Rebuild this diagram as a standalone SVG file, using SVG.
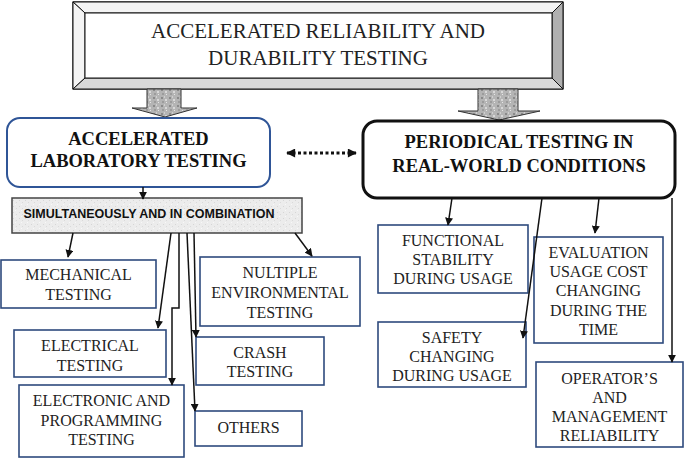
<svg xmlns="http://www.w3.org/2000/svg" width="685" height="458" viewBox="0 0 685 458">
<style>
.box{fill:#fff;stroke:#2e4a7d;stroke-width:1.6}
text{font-family:'Liberation Serif','Times New Roman','DejaVu Serif',serif}
.t{font-size:16px;fill:#222;text-anchor:middle}
.tb{font-size:18.5px;font-weight:bold;fill:#111;text-anchor:middle}
.conn{fill:none;stroke:#111;stroke-width:1.5}
</style>
<defs>
<marker id="ah" viewBox="0 0 10 10" refX="9" refY="5" markerWidth="8" markerHeight="8" markerUnits="userSpaceOnUse" orient="auto">
<path d="M0,0 L10,5 L0,10 z" fill="#111"/>
</marker>
<marker id="ahd" viewBox="0 0 10 10" refX="9" refY="5" markerWidth="10" markerHeight="9" markerUnits="userSpaceOnUse" orient="auto-start-reverse">
<path d="M0,0 L10,5 L0,10 z" fill="#111"/>
</marker>
<pattern id="speck" width="8" height="8" patternUnits="userSpaceOnUse">
<rect width="8" height="8" fill="#b4b4b4"/>
<rect x="1" y="1" width="2" height="2" fill="#8a8a8a"/>
<rect x="5" y="3" width="2" height="2" fill="#d8d8d8"/>
<rect x="2" y="5" width="2" height="2" fill="#9c9c9c"/>
<rect x="6" y="6" width="1" height="1" fill="#e6e6e6"/>
<rect x="4" y="0" width="1" height="2" fill="#cfcfcf"/>
</pattern>
<pattern id="light" width="6" height="6" patternUnits="userSpaceOnUse">
<rect width="6" height="6" fill="#ececec"/>
<rect x="1" y="2" width="1" height="1" fill="#d6d6d6"/>
<rect x="4" y="4" width="1" height="1" fill="#dadada"/>
<rect x="3" y="0" width="1" height="1" fill="#f8f8f8"/>
</pattern>
</defs>

<g id="title">
<rect x="73" y="2" width="490" height="87" fill="#fff" stroke="#111" stroke-width="1.2"/>
<polygon points="73,2 563,2 552,13 85,13" fill="#f4f4f4" stroke="#111" stroke-width="1"/>
<polygon points="73,2 85,13 85,78 73,89" fill="#f4f4f4" stroke="#111" stroke-width="1"/>
<polygon points="563,2 563,89 552,78 552,13" fill="#b0b0b0" stroke="#111" stroke-width="1"/>
<polygon points="73,89 85,78 552,78 563,89" fill="#d9d9d9" stroke="#111" stroke-width="1"/>
<rect x="85" y="13" width="467" height="65" fill="#fff" stroke="#111" stroke-width="1"/>
<text class="t" font-family="Liberation Serif, serif" style="font-size:21px" x="318" y="38">ACCELERATED RELIABILITY AND</text>
<text class="t" font-family="Liberation Serif, serif" style="font-size:21px" x="318" y="65">DURABILITY TESTING</text>
</g>

<g id="fatArrows">
<polygon points="147,89 181,89 181,108 197,108 165,117 132,108 147,108" fill="url(#speck)" stroke="#333" stroke-width="1"/>
<polygon points="478,89 518,89 518,111 540,111 499,120 458,111 478,111" fill="url(#speck)" stroke="#333" stroke-width="1"/>
</g>

<g id="lab">
<rect x="7" y="118" width="263" height="69" rx="13" fill="#fff" stroke="#2f5597" stroke-width="2"/>
<text class="tb" x="138.5" y="145">ACCELERATED</text>
<text class="tb" x="138.5" y="167">LABORATORY TESTING</text>
</g>

<g id="real">
<rect x="363" y="121" width="312" height="77" rx="14" fill="#fff" stroke="#111" stroke-width="3"/>
<text class="tb" x="519" y="148">PERIODICAL TESTING IN</text>
<text class="tb" x="519" y="172">REAL-WORLD CONDITIONS</text>
</g>

<g id="combo">
<rect x="12" y="198" width="290" height="35" fill="url(#light)" stroke="#444" stroke-width="1.5"/>
<text x="149" y="217.5" text-anchor="middle" style="font-family:'Liberation Sans',Arial,sans-serif;font-size:12.5px;font-weight:bold;fill:#111">SIMULTANEOUSLY AND IN COMBINATION</text>
</g>

<g id="mech">
<rect class="box" x="1" y="260" width="155" height="48"/>
<text class="t" x="78.5" y="280">MECHANICAL</text>
<text class="t" x="78.5" y="300">TESTING</text>
</g>
<g id="multi">
<rect class="box" x="200" y="257" width="160" height="69"/>
<text class="t" x="280" y="278">NULTIPLE</text>
<text class="t" x="280" y="298">ENVIRONMENTAL</text>
<text class="t" x="280" y="318">TESTING</text>
</g>
<g id="elec">
<rect class="box" x="14" y="330" width="152" height="47"/>
<text class="t" x="90" y="351">ELECTRICAL</text>
<text class="t" x="90" y="371">TESTING</text>
</g>
<g id="crash">
<rect class="box" x="196" y="337" width="128" height="48"/>
<text class="t" x="260" y="358">CRASH</text>
<text class="t" x="260" y="377">TESTING</text>
</g>
<g id="electronic">
<rect class="box" x="19" y="385" width="165" height="72"/>
<text class="t" x="101.5" y="406">ELECTRONIC AND</text>
<text class="t" x="101.5" y="426">PROGRAMMING</text>
<text class="t" x="101.5" y="445">TESTING</text>
</g>
<g id="others">
<rect class="box" x="195" y="411" width="107" height="35"/>
<text class="t" x="248.5" y="433">OTHERS</text>
</g>

<g id="functional">
<rect class="box" x="378" y="225" width="150" height="68"/>
<text class="t" x="453" y="246">FUNCTIONAL</text>
<text class="t" x="453" y="265">STABILITY</text>
<text class="t" x="453" y="284">DURING USAGE</text>
</g>
<g id="evaluation">
<rect class="box" x="534" y="237" width="129" height="106"/>
<text class="t" x="598.5" y="258">EVALUATION</text>
<text class="t" x="598.5" y="277">USAGE COST</text>
<text class="t" x="598.5" y="296">CHANGING</text>
<text class="t" x="598.5" y="316">DURING THE</text>
<text class="t" x="598.5" y="335">TIME</text>
</g>
<g id="safety">
<rect class="box" x="378" y="322" width="148" height="65"/>
<text class="t" x="452" y="343">SAFETY</text>
<text class="t" x="452" y="362">CHANGING</text>
<text class="t" x="452" y="381">DURING USAGE</text>
</g>
<g id="operator">
<rect class="box" x="536" y="362" width="147" height="85"/>
<text class="t" x="609.5" y="384">OPERATOR’S</text>
<text class="t" x="609.5" y="403">AND</text>
<text class="t" x="609.5" y="422">MANAGEMENT</text>
<text class="t" x="609.5" y="441">RELIABILITY</text>
</g>

<g id="connectors">
<line x1="287" y1="153" x2="356" y2="153" stroke="#111" stroke-width="3" stroke-dasharray="3,2.5" marker-start="url(#ahd)" marker-end="url(#ahd)"/>
<line class="conn" x1="143" y1="187" x2="143" y2="199" marker-end="url(#ah)"/>
<line class="conn" x1="73" y1="233" x2="68" y2="257" marker-end="url(#ah)"/>
<line class="conn" x1="171" y1="233" x2="158" y2="328" marker-end="url(#ah)"/>
<polyline class="conn" points="179,233 179,308 172,308 172,385" marker-end="url(#ah)"/>
<line class="conn" x1="187" y1="233" x2="195" y2="411" marker-end="url(#ah)"/>
<line class="conn" x1="194" y1="233" x2="196" y2="337" marker-end="url(#ah)"/>
<line class="conn" x1="295" y1="233" x2="312" y2="256" marker-end="url(#ah)"/>
<line class="conn" x1="452" y1="198" x2="448" y2="225" marker-end="url(#ah)"/>
<line class="conn" x1="542" y1="198" x2="523" y2="338" marker-end="url(#ah)"/>
<line class="conn" x1="599" y1="198" x2="595" y2="233" marker-end="url(#ah)"/>
<line class="conn" x1="672" y1="198" x2="672" y2="362" marker-end="url(#ah)"/>
</g>
</svg>
